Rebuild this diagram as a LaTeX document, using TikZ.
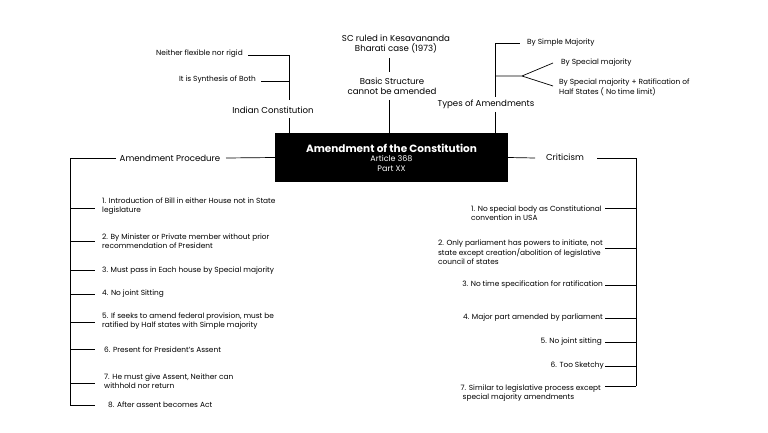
\documentclass[tikz,border=0pt]{standalone}
\usepackage{fontspec}
\setmainfont{Poppins}
\begin{document}
\begin{tikzpicture}[x=1pt,y=-1pt,
  lbl/.style={font=\fontsize{7.4}{8.8}\selectfont,inner sep=0pt,align=left},
  hd/.style={font=\fontsize{8.6}{9.8}\selectfont,inner sep=0pt,align=center},
  ln/.style={draw=black,line width=0.7pt}]
\useasboundingbox (0,0) rectangle (768,433);
% central box
\node[fill=black,text=white,minimum width=233,minimum height=49,inner sep=0pt,align=center,font=\fontsize{8}{9.5}\selectfont] (c) at (391.5,157.5) {{\fontsize{10.5}{12}\selectfont\bfseries Amendment of the Constitution}\\Article 368\\Part XX};
% top-left
\node[lbl,anchor=east] (t1) at (243,54) {Neither flexible nor rigid};
\node[lbl,anchor=east] (t2) at (256,80) {It is Synthesis of Both};
\node[hd] (ic) at (273,110) {Indian Constitution};
\coordinate (a1) at (289,55); \coordinate (a2) at (289,81);
\draw[ln] (248,55) -- (a1) -- (289,100);
\draw[ln] (261,81) -- (a2);
\draw[ln] (289,118) -- (289,133);
% top-middle
\node[hd] (sc) at (396,44) {SC ruled in Kesavananda\\Bharati case (1973)};
\node[hd] (bs) at (392,86) {Basic Structure\\cannot be amended};
\draw[ln] (389,58) -- (389,72);
\draw[ln] (389,100) -- (389,133);
% top-right
\node[hd] (ta) at (486,104) {Types of Amendments};
\node[lbl,anchor=west] (r1) at (527,43) {By Simple Majority};
\node[lbl,anchor=west] (r2) at (561,63) {By Special majority};
\node[lbl,anchor=west] (r3) at (559,87) {By Special majority + Ratification of\\Half States ( No time limit)};
\coordinate (f) at (522,76);
\draw[ln] (495,97) -- (495,43) -- (520,43);
\draw[ln] (495,76) -- (f) -- (553,63);
\draw[ln] (f) -- (553,86);
\draw[ln] (495,112) -- (495,133);
% left branch
\node[hd] (ap) at (170,158) {Amendment Procedure};
\draw[ln] (116,158) -- (70,158) -- (70,405);
\draw[ln] (226,158) -- (c.west);
\foreach \y/\t/\ty/\xx in {
 208/{1. Introduction of Bill in either House not in State\\legislature}/206.5/102,
 241/{2. By Minister or Private member without prior\\recommendation of President}/241.5/102,
 270/{3. Must pass in Each house by Special majority}/271/102,
 294/{4. No joint Sitting}/294/102,
 322/{5. If seeks to amend federal provision, must be\\ratified by Half states with Simple majority}/321.5/102,
 349/{6. Present for President's Assent}/350/104,
 383/{7. He must give Assent, Neither can\\withhold nor return}/381.5/104,
 405/{8. After assent becomes Act}/405/108}{
 \node[lbl,anchor=west] at (\xx,\ty) {\t};
 \draw[ln] (70,\y) -- (95,\y);
}
% right branch
\node[hd] (cr) at (565,157) {Criticism};
\draw[ln] (c.east) -- (535,158);
\draw[ln] (597,158) -- (636,158) -- (636,386);
\foreach \y/\t/\ty/\xx in {
 208/{1. No special body as Constitutional\\convention in USA}/213.5/602,
 248/{2. Only parliament has powers to initiate, not\\state except creation/abolition of legislative\\council of states}/252/603,
 285/{3. No time specification for ratification}/285/603,
 318/{4. Major part amended by parliament}/318/603,
 342/{5. No joint sitting}/342/602,
 366/{6. Too Sketchy}/366/604,
 386/{7. Similar to legislative process except\\ \ special majority amendments}/393.5/601}{
 \node[lbl,anchor=east] at (\xx,\ty) {\t};
 \draw[ln] (605,\y) -- (636,\y);
}
\end{tikzpicture}
\end{document}
